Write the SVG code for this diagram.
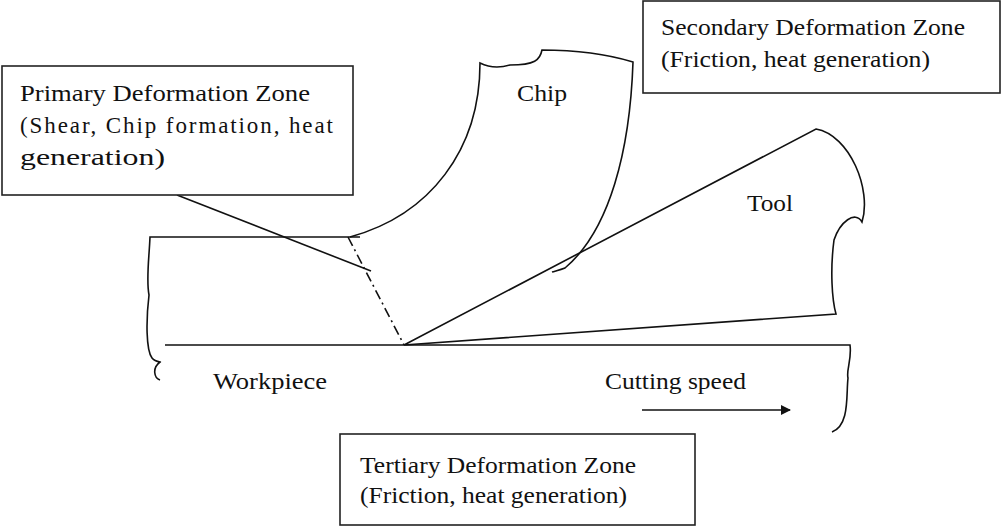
<svg xmlns="http://www.w3.org/2000/svg" width="1002" height="527" viewBox="0 0 1002 527">
<style>
.s{fill:none;stroke:#111;stroke-width:1.6}
.b{fill:#fff;stroke:#222;stroke-width:1.6}
</style>
<defs><marker id="ah" markerWidth="10" markerHeight="10" refX="9" refY="5" orient="auto" markerUnits="userSpaceOnUse"><path d="M0,0 L10,5 L0,10 z" fill="#111"/></marker></defs>
<rect width="1002" height="527" fill="#fff"/>
<g font-family="Liberation Serif, Times New Roman, serif" font-size="23" fill="#111" lengthAdjust="spacingAndGlyphs">
<g id="workpiece">
<path class="s" d="M360,237 L150,237 C149,260 146,280 149,295 C146,320 146,350 152,358 C155,362 162,362 160,362 C152,368 154,378 160,380"/>
<path class="s" d="M165,345 L850,345 C852,360 846,370 848,378 C846,395 850,425 832,432"/>
<path class="s" d="M348,237 L404,345" stroke-dasharray="10,4,2,4"/>
<text x="213" y="389" textLength="114" lengthAdjust="spacingAndGlyphs">Workpiece</text>
</g>
<g id="chip">
<path class="s" d="M350,237 C430,215 480,150 480,63 C490,68 500,68 510,65 C535,65 540,60 542,50 C580,50 610,55 633,62 C630,150 610,230 565,268 C560,270 555,271 552,272"/>
<text x="517" y="101" textLength="50" lengthAdjust="spacingAndGlyphs">Chip</text>
</g>
<g id="tool">
<path class="s" d="M404,345 L816,129 C850,135 872,190 862,222 C855,210 840,222 834,240 C830,270 832,300 836,314 L404,345"/>
<text x="747" y="211" textLength="46" lengthAdjust="spacingAndGlyphs">Tool</text>
</g>
<g id="speed">
<text x="605" y="389" textLength="141" lengthAdjust="spacingAndGlyphs">Cutting speed</text>
<line class="s" x1="642" y1="410" x2="790" y2="410" stroke-width="2" marker-end="url(#ah)"/>
</g>
<g id="connectors">
<line class="s" x1="177" y1="195" x2="371" y2="271"/>
</g>
<g id="primary">
<rect class="b" x="2" y="66" width="351" height="129"/>
<text x="20" y="101" textLength="290" lengthAdjust="spacingAndGlyphs">Primary Deformation Zone</text>
<text x="20" y="133" textLength="313" lengthAdjust="spacing">(Shear, Chip formation, heat</text>
<text x="20" y="165" textLength="145" lengthAdjust="spacingAndGlyphs">generation)</text>
</g>
<g id="secondary">
<rect class="b" x="643" y="1" width="357" height="92"/>
<text x="661" y="35" textLength="304" lengthAdjust="spacingAndGlyphs">Secondary Deformation Zone</text>
<text x="661" y="67" textLength="269" lengthAdjust="spacingAndGlyphs">(Friction, heat generation)</text>
</g>
<g id="tertiary">
<rect class="b" x="340" y="434" width="355" height="91"/>
<text x="360" y="473" textLength="276" lengthAdjust="spacingAndGlyphs">Tertiary Deformation Zone</text>
<text x="360" y="503" textLength="267" lengthAdjust="spacingAndGlyphs">(Friction, heat generation)</text>
</g>
</g>
</svg>
